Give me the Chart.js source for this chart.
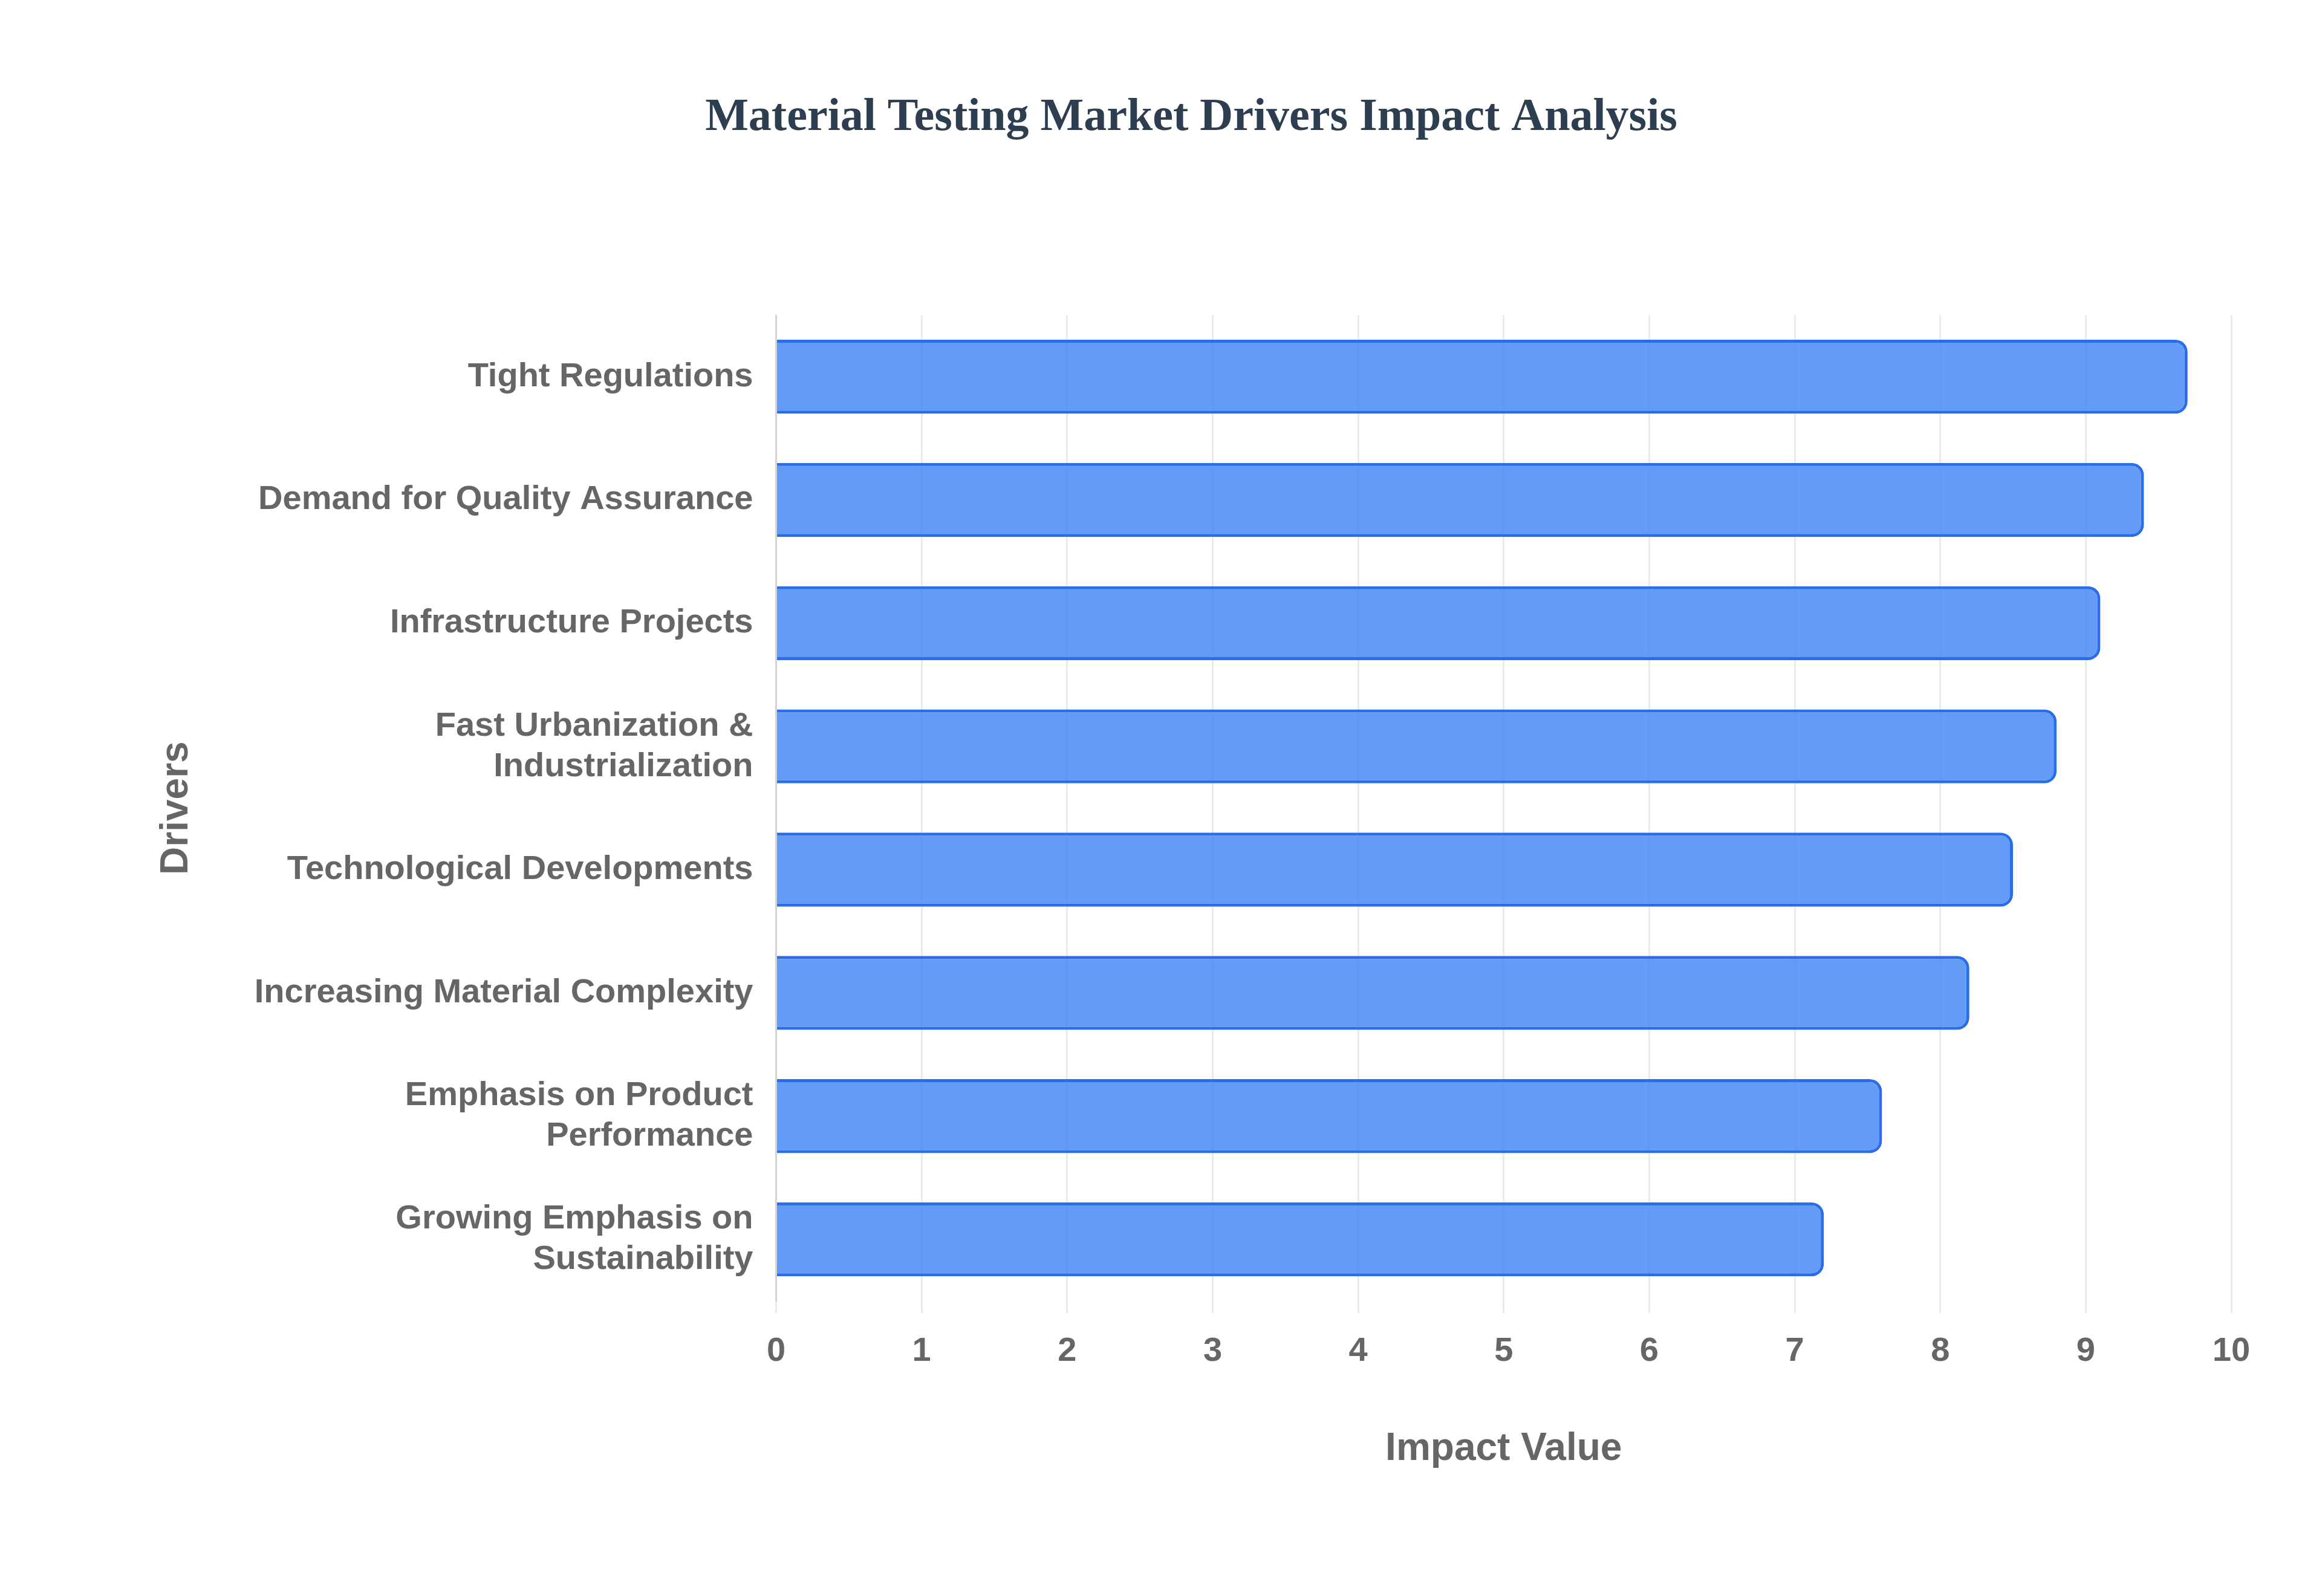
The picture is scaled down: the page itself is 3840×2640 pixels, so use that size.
<!DOCTYPE html>
<html lang="en">
<head>
    <meta charset="UTF-8">
    <title>Material Testing Market Drivers</title>
    <script src="https://cdn.jsdelivr.net/npm/chart.js@4.4.0/dist/chart.umd.min.js"></script>
    <style>
        body { margin: 0; background: #fff; }
    </style>
</head>
<body>

<canvas id="chart" width="3840" height="2640"></canvas>

<script>
    const drivers = [
        'Tight Regulations',
        'Demand for Quality Assurance',
        'Infrastructure Projects',
        ['Fast Urbanization &', 'Industrialization'],
        'Technological Developments',
        'Increasing Material Complexity',
        ['Emphasis on Product', 'Performance'],
        ['Growing Emphasis on', 'Sustainability']
    ];
    const impact = [9.7, 9.4, 9.1, 8.8, 8.5, 8.2, 7.6, 7.2];

    const tickFont = { family: 'Liberation Sans, Arial', size: 56, weight: 'bold' };
    const titleFont = { family: 'Liberation Sans, Arial', size: 64, weight: 'bold' };

    const ctx = document.getElementById('chart').getContext('2d');
    const chart = new Chart(ctx, {
        type: 'bar',
        data: {
            labels: drivers,
            datasets: [{
                data: impact,
                backgroundColor: 'rgba(66, 133, 244, 0.82)',
                borderColor: 'rgba(40, 110, 235, 1)',
                borderWidth: 5,
                borderRadius: 20,
                borderSkipped: 'start',
                categoryPercentage: 0.8,
                barPercentage: 0.75
            }]
        },
        options: {
            indexAxis: 'y',
            responsive: false,
            devicePixelRatio: 1,
            animation: false,
            layout: { padding: { left: 250, right: 150, top: 150, bottom: 200 } },
            plugins: {
                legend: { display: false },
                tooltip: { enabled: false },
                title: {
                    display: true,
                    text: 'Material Testing Market Drivers Impact Analysis',
                    color: '#2c3e50',
                    font: { family: 'Liberation Serif, Times New Roman', size: 76, weight: 'bold' },
                    padding: { top: 0, bottom: 280 }
                }
            },
            scales: {
                x: {
                    min: 0,
                    max: 10,
                    ticks: { stepSize: 1, color: '#666', font: tickFont, padding: 30 },
                    grid: { color: 'rgba(0,0,0,0.08)', lineWidth: 3, tickLength: 20 },
                    border: { display: false },
                    title: { display: true, text: 'Impact Value', color: '#666', font: titleFont, padding: { top: 60 } }
                },
                y: {
                    ticks: { color: '#666', font: tickFont, padding: 30 },
                    grid: { display: false },
                    border: { color: 'rgba(0,0,0,0.1)', width: 3 },
                    title: { display: true, text: 'Drivers', color: '#666', font: titleFont, padding: { bottom: 60 } }
                }
            }
        }
    });
</script>
</body>
</html>
